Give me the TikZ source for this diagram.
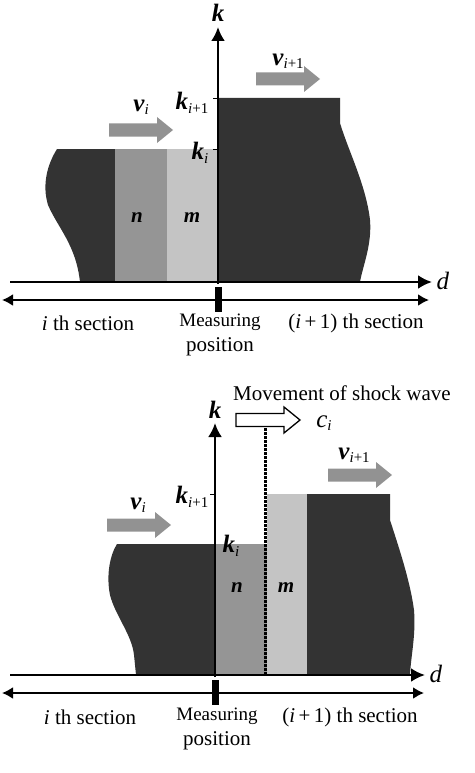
\documentclass[tikz,border=0pt]{standalone}
\usepackage{fontspec}
\setmainfont{Liberation Serif}
\usetikzlibrary{arrows.meta}
\definecolor{darkfill}{HTML}{333333}
\definecolor{nfill}{HTML}{959595}
\definecolor{mfill}{HTML}{C4C4C4}
\definecolor{flowgray}{HTML}{929292}
\newcommand{\bvar}[1]{\textbf{\textit{#1}}}
\newcommand{\isub}[1]{\raisebox{-0.3ex}{\fontsize{15}{15}\selectfont #1}}
\tikzset{lab/.style={font=\fontsize{21}{25}\selectfont, inner sep=0pt},
  varlab/.style={font=\fontsize{25}{25}\selectfont, inner sep=0pt},
  axis/.style={line width=2.6pt, -{Latex[length=14pt,width=14pt]}},
  section line/.style={line width=2pt, {Latex[length=11pt,width=12pt]}-{Latex[length=11pt,width=12pt]}},
  ktick/.style={line width=0.8pt},
  measure tick/.style={line width=7pt},
  shock line/.style={line width=2.8pt, dash pattern=on 3pt off 1pt},
  flowarrow/.pic={\path[pic actions] (0,-6.5) -- (48,-6.5) -- (48,-13) -- (64,0) -- (48,13) -- (48,6.5) -- (0,6.5) -- cycle;},}

\begin{document}
\begin{tikzpicture}[x=1pt, y=-1pt]
  \useasboundingbox (0,0) rectangle (474,773);
  % Upper panel: regions
  \fill[darkfill] (115,149) -- (57,149) .. controls (47,165) and (42,185) .. (48,205)
    .. controls (58,228) and (76,245) .. (80,282) -- (115,282) -- cycle;
  \fill[nfill] (115,149) rectangle (167,282);
  \fill[mfill] (167,149) rectangle (218,282);
  \fill[darkfill] (218,98) -- (340,98) -- (340,123) .. controls (348,150) and (366,185) .. (370,220)
    .. controls (372,245) and (363,265) .. (360,282) -- (218,282) -- cycle;
  % Upper panel: axes
  \coordinate (o1) at (218,284);
  \coordinate (ktop1) at (218,27);
  \coordinate (dl1) at (10,282);
  \coordinate (dr1) at (432,282);
  \coordinate (sl1) at (2,300);
  \coordinate (sr1) at (429,300);
  \draw[axis] (o1) -- (ktop1);
  \draw[axis] (dl1) -- (dr1);
  \draw[section line] (sl1) -- (sr1);
  \draw[measure tick] (218,287) -- (218,312);
  \draw[ktick] (213,149) -- (218,149);
  \draw[ktick] (213,98) -- (218,98);
  % Upper panel: flow arrows
  \pic[fill=flowgray] at (109,130) {flowarrow};
  \pic[fill=flowgray] at (256,79) {flowarrow};
  % Upper panel: labels
  \node[varlab] (k1) at (218,13) {\bvar{k}};
  \node[varlab] (d1) at (443,281) {\textit{d}};
  \node[varlab] (ki1) at (200,153) {\bvar{k}\isub{\textit{i}}};
  \node[varlab] (kip1) at (192,103) {\bvar{k}\isub{\textit{i}+1}};
  \node[varlab] (vi1) at (141,107) {\bvar{v}\isub{\textit{i}}};
  \node[varlab] (vip1) at (288,61) {\bvar{v}\isub{\textit{i}+1}};
  \node[lab] (n1) at (137,218) {\bvar{n}};
  \node[lab] (m1) at (192,218) {\bvar{m}};
  \node[lab] (isec1) at (88,323) {\textit{i} th section};
  \node[lab, align=center] (meas1) at (220,335) {\fontsize{19}{24}\selectfont Measuring\\position};
  \node[lab] (ip1sec1) at (356,323) {(\textit{i}\,+\,1) th section};

  % Lower panel: regions
  \fill[darkfill] (215,544) -- (117,544) .. controls (110,555) and (106,575) .. (110,595)
    .. controls (115,615) and (132,635) .. (134,655) -- (136,675) -- (215,675) -- cycle;
  \fill[nfill] (215,544) rectangle (267,675);
  \fill[mfill] (267,494) rectangle (307,675);
  \fill[darkfill] (307,494) -- (390,494) -- (390,520) .. controls (398,545) and (410,580) .. (414,610)
    .. controls (416,635) and (411,655) .. (410,675) -- (307,675) -- cycle;
  \draw[shock line] (265.7,428) -- (265.7,675);
  % Lower panel: axes
  \coordinate (o2) at (215,677);
  \coordinate (ktop2) at (215,423);
  \coordinate (dl2) at (10,675);
  \coordinate (dr2) at (425,675);
  \coordinate (sl2) at (2,693);
  \coordinate (sr2) at (424,693);
  \draw[axis] (o2) -- (ktop2);
  \draw[axis] (dl2) -- (dr2);
  \draw[section line] (sl2) -- (sr2);
  \draw[measure tick] (215,680) -- (215,705);
  \draw[ktick] (210,494) -- (215,494);
  % Lower panel: flow arrows
  \pic[fill=flowgray] at (107,525) {flowarrow};
  \pic[fill=flowgray] at (328,475) {flowarrow};
  \pic[draw=black, fill=white, line width=1.3pt] at (236,420) {flowarrow};
  % Lower panel: labels
  \node[varlab] (k2) at (215,410) {\bvar{k}};
  \node[varlab] (d2) at (436,674) {\textit{d}};
  \node[lab] (shock) at (342,393) {Movement of shock wave};
  \node[varlab] (ci) at (324,423) {\textit{c}\isub{\textit{i}}};
  \node[varlab] (vi2) at (138,505) {\bvar{v}\isub{\textit{i}}};
  \node[varlab] (vip2) at (354,455) {\bvar{v}\isub{\textit{i}+1}};
  \node[varlab] (kip2) at (192,497) {\bvar{k}\isub{\textit{i}+1}};
  \node[varlab] (ki2) at (231,546) {\bvar{k}\isub{\textit{i}}};
  \node[lab] (n2) at (237,588) {\bvar{n}};
  \node[lab] (m2) at (286,588) {\bvar{m}};
  \node[lab] (isec2) at (90,717) {\textit{i} th section};
  \node[lab, align=center] (meas2) at (217,729) {\fontsize{19}{24}\selectfont Measuring\\position};
  \node[lab] (ip1sec2) at (350,717) {(\textit{i}\,+\,1) th section};
\end{tikzpicture}
\end{document}
